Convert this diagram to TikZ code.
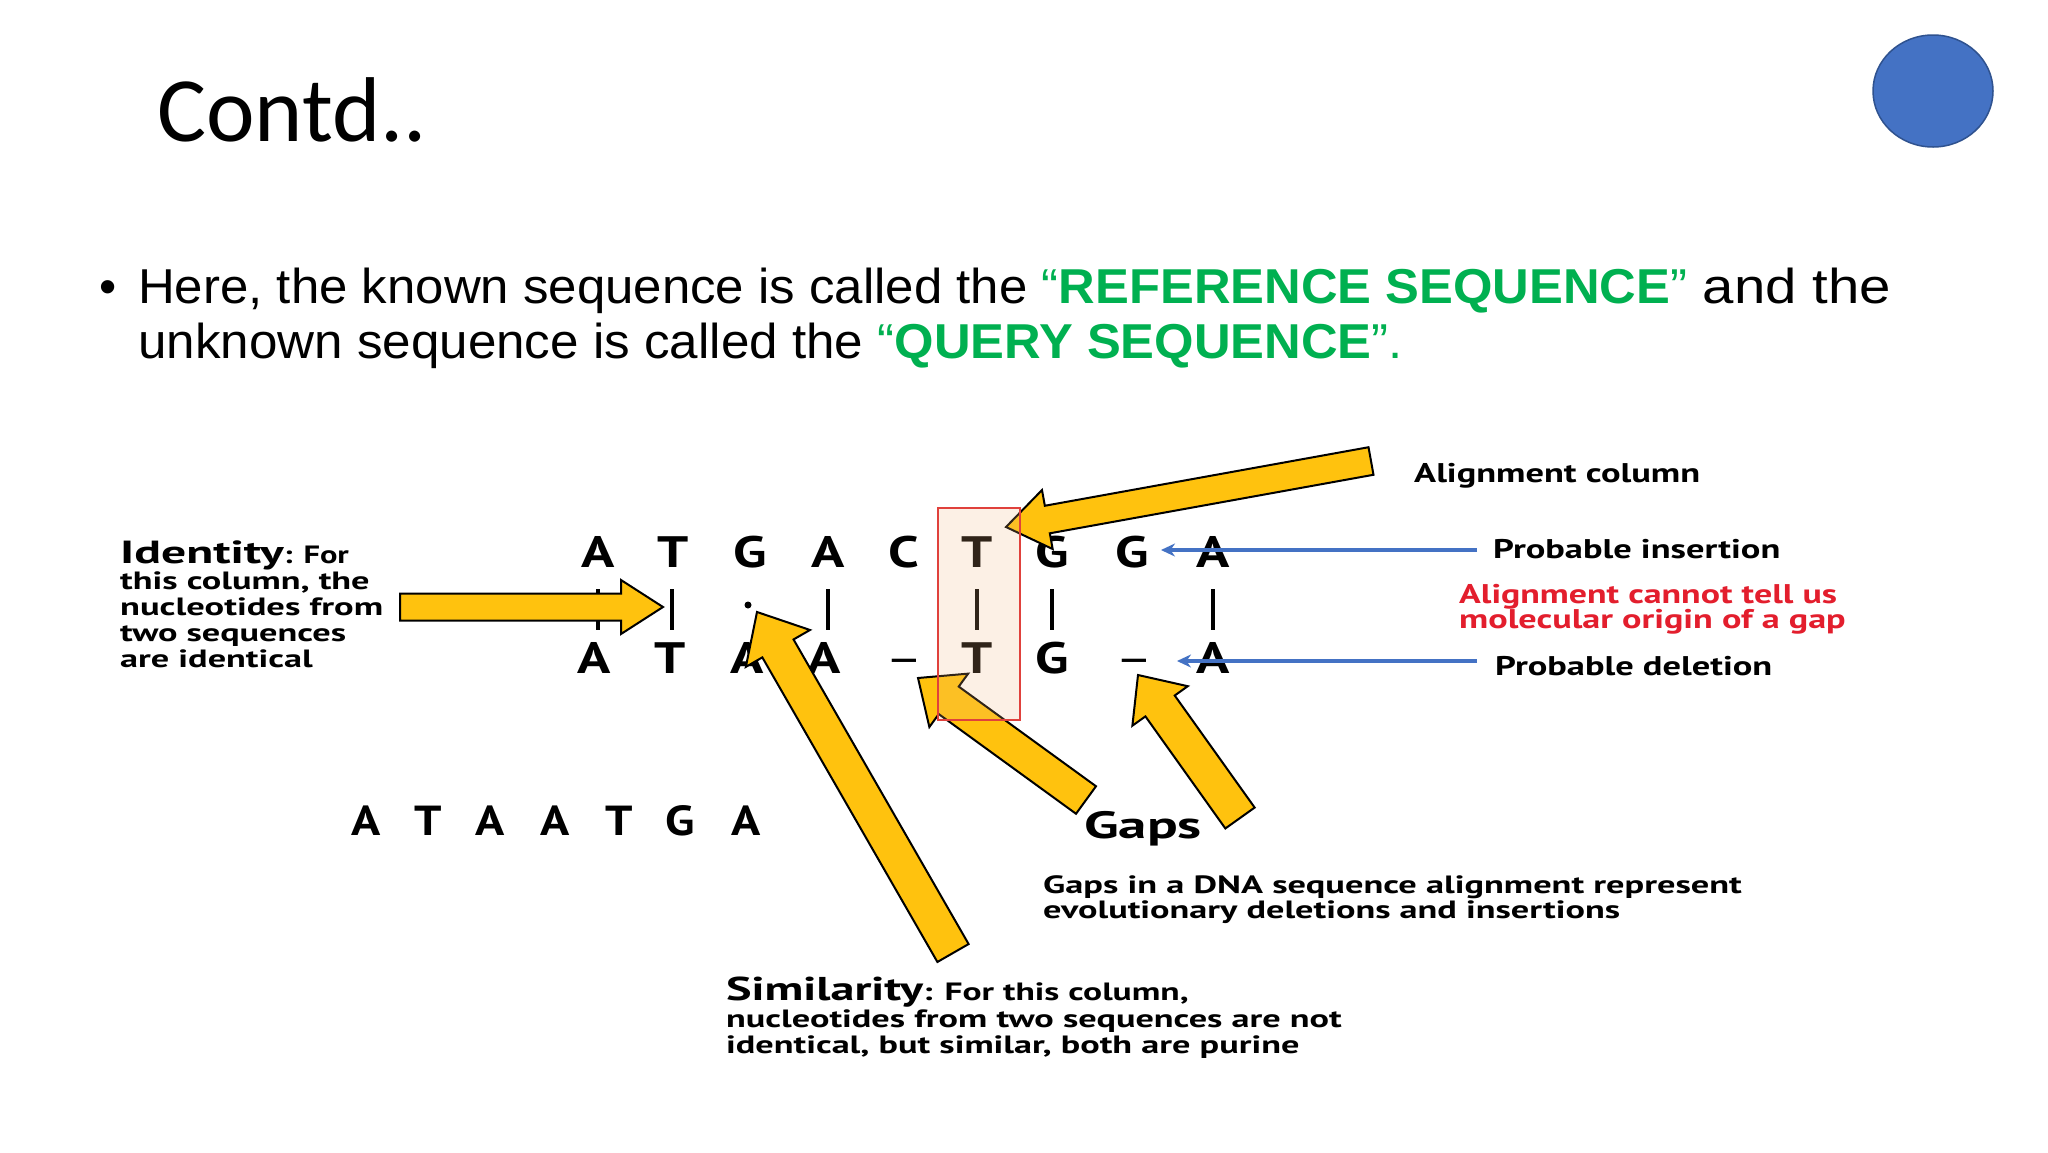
\documentclass[tikz,border=0pt]{standalone}
\usepackage{graphicx}
\usepackage{fontspec}
\setmainfont{Liberation Sans}
\newfontfamily\titlefont{Carlito}
\newfontfamily\figfont{PT Sans}
\usetikzlibrary{calc,arrows.meta}
\definecolor{sgreen}{HTML}{00B050}
\definecolor{ayellow}{HTML}{FFC20E}
\definecolor{pblue}{HTML}{4472C4}
\definecolor{cbord}{HTML}{2F528F}
\definecolor{gred}{HTML}{E31E2D}
\definecolor{boxred}{HTML}{E0413C}
\definecolor{boxfill}{HTML}{F2B880}
\newcommand\sx[2]{\scalebox{#1}[1]{#2}}
\newcommand\blockarrow[6]{%
  \coordinate (#6b) at ($(#2)!#5!(#1)$);
  \draw[blk] ($(#1)!#3!90:(#2)$) -- ($(#6b)!#3!90:(#2)$) -- ($(#6b)!#4!90:(#2)$) -- (#2)
    -- ($(#6b)!#4!-90:(#2)$) -- ($(#6b)!#3!-90:(#2)$) -- ($(#1)!#3!-90:(#2)$) -- cycle;}
\begin{document}
\begin{tikzpicture}[x=1pt,y=-1pt,
  seq/.style={font=\figfont\bfseries\fontsize{44}{48}\selectfont, anchor=base, inner sep=0pt},
  lbl/.style={font=\figfont\bfseries\fontsize{27}{30}\selectfont, anchor=base west, inner sep=0pt},
  note/.style={font=\figfont\bfseries\fontsize{25}{28}\selectfont, anchor=base west, inner sep=0pt},
  redlbl/.style={lbl, text=gred},
  bar/.style={line width=3.5pt},
  blk/.style={fill=ayellow, draw=black, line width=2pt, line join=miter},
  thin/.style={draw=pblue, line width=3.5pt, -{Stealth[length=14pt,width=13pt]}},
  body/.style={font=\fontsize{49}{55}\selectfont, anchor=base west, inner sep=0pt}]
\useasboundingbox (0,0) rectangle (2048,1152);
\fill[white] (0,0) rectangle (2048,1152);

% title and circle
\node[font=\titlefont\fontsize{92}{100}\selectfont, anchor=base west, inner sep=0pt] (title) at (157,141) {Contd..};
\draw[fill=pblue, draw=cbord, line width=1.5pt] (1933,91) ellipse [x radius=60, y radius=56];

% bullet text
\node[body, anchor=base] (bul) at (108,303) {•};
\node[body] (line1) at (138,303) {\sx{1.04}{Here, the known sequence is called the }\textcolor{sgreen}{\sx{1.04}{“}\sx{1.035}{\textbf{REFERENCE SEQUENCE}}\sx{1.04}{”}}\sx{1.15}{ and the}};
\node[body] (line2) at (138,358) {\sx{1.044}{unknown sequence is called the }\textcolor{sgreen}{\sx{1.04}{“}\sx{1.035}{\textbf{QUERY SEQUENCE}}\sx{1.04}{”.}}};

% alignment top row
\foreach \x/\c [count=\i] in {598/A,673/T,750/G,828/A,904/C,977/T,1052/G,1132/G,1213/A}
  \node[seq] (t\i) at (\x,567) {\sx{1.25}{\c}};
% bottom row
\foreach \x/\c [count=\i] in {594/A,670/T,747/A,824/A,977/T,1052/G,1213/A}
  \node[seq] (b\i) at (\x,673) {\sx{1.25}{\c}};
\node[seq, font=\figfont\fontsize{44}{48}\selectfont] (gap1) at (904,673) {\sx{1.3}{–}};
\node[seq, font=\figfont\fontsize{44}{48}\selectfont] (gap2) at (1134,673) {\sx{1.3}{–}};
% middle bars
\foreach \x [count=\i] in {598,672,828,977,1052,1213}
  \draw[bar] (\x,589) -- (\x,630);
\fill (748,605) circle (3.5);

% yellow block arrows
\coordinate (idT) at (400,607);   \coordinate (idH) at (663,607);
\coordinate (acT) at (1371,461);  \coordinate (acH) at (1006,527);
\coordinate (smT) at (953,953);   \coordinate (smH) at (757,612);
\coordinate (g1T) at (1086,800);  \coordinate (g1H) at (918,678);
\coordinate (g2T) at (1240,818);  \coordinate (g2H) at (1138,675);
\blockarrow{idT}{idH}{13.5pt}{27pt}{42pt}{id}
\blockarrow{acT}{acH}{14pt}{30pt}{42pt}{ac}
\blockarrow{smT}{smH}{18pt}{37pt}{42pt}{sm}
\blockarrow{g1T}{g1H}{17pt}{33pt}{38pt}{ga}
\blockarrow{g2T}{g2H}{18pt}{34pt}{38pt}{gb}

% alignment column box
\draw[boxred, line width=2pt, fill=boxfill, fill opacity=0.2] (938,508) rectangle (1020,720);

% blue arrows
\coordinate (insS) at (1477,550); \coordinate (insE) at (1161,550);
\coordinate (delS) at (1477,661); \coordinate (delE) at (1177,661);
\draw[thin] (insS) -- (insE);
\draw[thin] (delS) -- (delE);

% right labels
\node[lbl] (alc) at (1414,482) {\sx{1.35}{Alignment column}};
\node[lbl] (pins) at (1493,558) {\sx{1.35}{Probable insertion}};
\node[redlbl] (r1) at (1459,603) {\sx{1.33}{Alignment cannot tell us}};
\node[redlbl] (r2) at (1459,628) {\sx{1.34}{molecular origin of a gap}};
\node[lbl] (pdel) at (1495,675) {\sx{1.35}{Probable deletion}};

% identity label
\node[note] (id1) at (120,563) {\sx{1.55}{\fontsize{32}{34}\selectfont Identity}\sx{1.3}{: For}};
\node[note] (id2) at (120,589) {\sx{1.45}{this column, the}};
\node[note] (id3) at (120,615) {\sx{1.46}{nucleotides from}};
\node[note] (id4) at (120,641) {\sx{1.45}{two sequences}};
\node[note] (id5) at (120,667) {\sx{1.45}{are identical}};

% query sequence
\foreach \x/\c [count=\i] in {366/A,428/T,490/A,555/A,619/T,680/G,746/A}
  \node[seq, font=\figfont\bfseries\fontsize{42}{46}\selectfont] (q\i) at (\x,835) {\sx{1.15}{\c}};

% gaps
\node[lbl, font=\figfont\bfseries\fontsize{38}{40}\selectfont] (gaps) at (1084,838) {\sx{1.5}{Gaps}};
\node[note] (gd1) at (1043,893) {\sx{1.455}{Gaps in a DNA sequence alignment represent}};
\node[note] (gd2) at (1043,918) {\sx{1.45}{evolutionary deletions and insertions}};

% similarity
\node[note] (sm1) at (726,1000) {\sx{1.46}{\fontsize{33}{35}\selectfont Similarity}\sx{1.42}{: For this column,}};
\node[note] (sm2) at (726,1027) {\sx{1.45}{nucleotides from two sequences are not}};
\node[note] (sm3) at (726,1053) {\sx{1.45}{identical, but similar, both are purine}};
\end{tikzpicture}
\end{document}
